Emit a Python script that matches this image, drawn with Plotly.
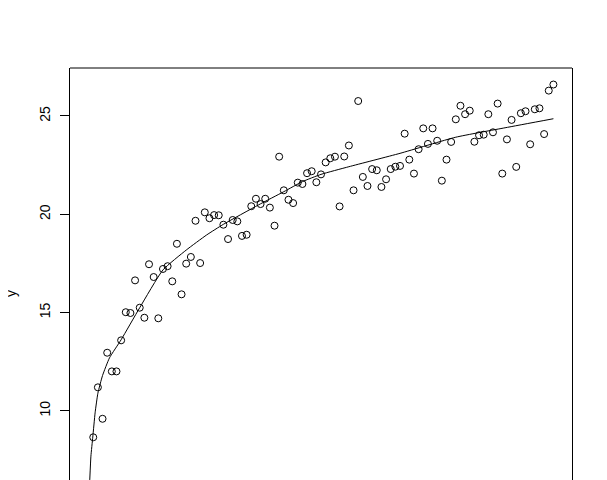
import plotly.graph_objects as go

# observed points (x = 1..100)
x_obs = list(range(1, 101))
y_obs = [8.66, 11.20, 9.60, 12.96, 12.01, 12.01, 13.59, 15.02, 14.98, 16.64,
         15.25, 14.74, 17.46, 16.81, 14.71, 17.22, 17.36, 16.59, 18.50, 15.93,
         17.49, 17.83, 19.67, 17.52, 20.10, 19.80, 19.96, 19.95, 19.47, 18.74,
         19.71, 19.64, 18.90, 18.96, 20.41, 20.79, 20.52, 20.79, 20.34, 19.42,
         22.93, 21.22, 20.74, 20.57, 21.61, 21.54, 22.09, 22.19, 21.63, 22.03,
         22.64, 22.85, 22.93, 20.40, 22.94, 23.50, 21.22, 25.76, 21.90, 21.44,
         22.30, 22.24, 21.39, 21.78, 22.30, 22.42, 22.46, 24.10, 22.78, 22.07,
         23.31, 24.37, 23.58, 24.37, 23.74, 21.71, 22.78, 23.68, 24.83, 25.52,
         25.09, 25.27, 23.69, 24.02, 24.05, 25.09, 24.17, 25.63, 22.07, 23.81,
         24.80, 22.41, 25.14, 25.24, 23.56, 25.34, 25.39, 24.08, 26.29, 26.60]

# fitted curve
fit_x = [0.25, 0.5, 0.9, 1.4, 2, 3, 4.5, 7, 11, 16, 21, 25.4, 29, 36.5, 42, 46, 50, 56, 67, 79, 89.6, 100]
fit_y = [6.49, 7.7, 8.67, 9.9, 10.9, 11.8, 12.7, 13.62, 15.25, 17.17, 18.18, 18.95, 19.49, 20.47,
         21.15, 21.66, 22.03, 22.42, 23.10, 23.92, 24.40, 24.86]

y_ticks = [10, 15, 20, 25]

fig = go.Figure()
fig.add_trace(go.Scatter(x=x_obs, y=y_obs, mode="markers",
                         marker=dict(symbol="circle-open", size=7, color="black",
                                     line=dict(width=1, color="black")),
                         showlegend=False))
fig.add_trace(go.Scatter(x=fit_x, y=fit_y, mode="lines",
                         line=dict(color="black", width=1, shape="spline", smoothing=0.5),
                         showlegend=False))

# page has an 8px body margin, so the plot box is set 8px up/left
fig.update_layout(
    width=607, height=480,
    margin=dict(l=62, r=43, t=60, b=0),
    paper_bgcolor="white", plot_bgcolor="white",
    font=dict(family="Liberation Sans, Arial, sans-serif", size=14, color="black"),
    xaxis=dict(range=[-4, 104], showgrid=False, zeroline=False, automargin=False,
               showticklabels=False, ticks="", showline=False),
    yaxis=dict(range=[6.08, 27.44], showgrid=False, zeroline=False, automargin=False,
               tickvals=y_ticks, ticks="outside", ticklen=9, tickcolor="black",
               tickangle=-90, ticklabelstandoff=4,
               showline=True, linecolor="black", linewidth=1, mirror=True),
    shapes=[dict(type="line", xref="paper", yref="paper", x0=0, x1=1, y0=1, y1=1,
                 line=dict(color="black", width=1))],
    annotations=[dict(text="y", xref="paper", yref="paper", x=-0.118, y=0.464,
                      showarrow=False, textangle=-90, font=dict(size=14),
                      xanchor="center", yanchor="middle")],
)

fig.write_html("out.html")
